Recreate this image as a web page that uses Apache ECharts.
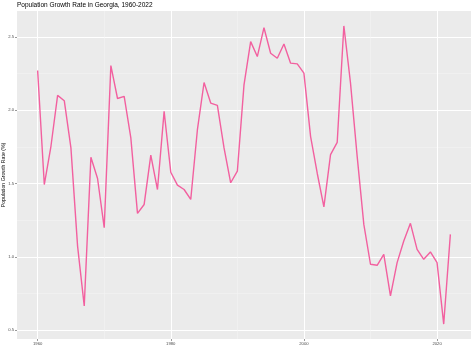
<!DOCTYPE html>
<html>
<head>
<meta charset="utf-8">
<script src="https://cdn.jsdelivr.net/npm/echarts@6/dist/echarts.min.js"></script>
<style>html,body{margin:0;padding:0;background:#fff;}#c{width:474px;height:355px;}</style>
</head>
<body>
<div id="c"></div>
<script>
const years = [1960,1961,1962,1963,1964,1965,1966,1967,1968,1969,
  1970,1971,1972,1973,1974,1975,1976,1977,1978,1979,
  1980,1981,1982,1983,1984,1985,1986,1987,1988,1989,
  1990,1991,1992,1993,1994,1995,1996,1997,1998,1999,
  2000,2001,2002,2003,2004,2005,2006,2007,2008,2009,
  2010,2011,2012,2013,2014,2015,2016,2017,2018,2019,
  2020,2021,2022];
const growthRate = [2.271,1.493,1.754,2.101,2.065,1.743,1.073,0.665,1.679,1.534,
  1.199,2.305,2.080,2.094,1.811,1.296,1.357,1.693,1.459,1.992,
  1.577,1.489,1.459,1.391,1.867,2.189,2.049,2.033,1.743,1.505,
  1.584,2.173,2.468,2.366,2.563,2.389,2.355,2.452,2.321,2.316,
  2.253,1.822,1.570,1.340,1.697,1.781,2.575,2.185,1.685,1.221,
  0.949,0.942,1.017,0.733,0.960,1.108,1.228,1.051,0.983,1.033,
  0.960,0.541,1.153];
const xMajorTicks = [1960,1980,2000,2020];
const xMinorTicks = [1970,1990,2010];
const yMajorTicks = [0.5,1.0,1.5,2.0,2.5];
const yMinorTicks = [0.75,1.25,1.75,2.25];
const titleText = 'Population Growth Rate in Georgia, 1960-2022';
const yTitle = 'Population Growth Rate (%)';

const FONT = 'Liberation Sans, Arial, sans-serif';
const xMin = 1956.9, xMax = 2025.1, yMin = 0.439, yMax = 2.677;

const chart = echarts.init(document.getElementById('c'), null, {renderer:'canvas'});
chart.setOption({
  animation: false,
  backgroundColor: '#ffffff',
  title: {
    text: titleText, left: 17, top: 2, padding: 0,
    textStyle: {fontFamily: FONT, fontSize: 6.5, fontWeight: 'normal', color: '#000'}
  },
  grid: {left: 17, right: 3, top: 11, bottom: 16, show: true, backgroundColor: '#EBEBEB', borderWidth: 0,
    containLabel: false, outerBoundsMode: 'none'},
  xAxis: [
    {
      type: 'value', min: xMin, max: xMax,
      axisLine: {show: false},
      axisTick: {show: true, length: 2, lineStyle: {color: '#333', width: 0.5}, customValues: xMajorTicks},
      axisLabel: {show: true, customValues: xMajorTicks, fontFamily: FONT, fontSize: 4.2, color: '#4D4D4D', margin: 3,
        formatter: v => String(v)},
      splitLine: {show: true, lineStyle: {color: '#ffffff', width: 1}}
    },
    {
      type: 'value', min: xMin, max: xMax, position: 'bottom', offset: 0,
      axisLine: {show: false},
      axisTick: {show: false, customValues: xMinorTicks},
      axisLabel: {show: false, customValues: xMinorTicks},
      splitLine: {show: true, lineStyle: {color: '#F5F5F5', width: 0.5}}
    }
  ],
  yAxis: [
    {
      type: 'value', min: yMin, max: yMax,
      name: yTitle, nameLocation: 'middle', nameRotate: 90, nameGap: 11, nameMoveOverlap: false,
      nameTextStyle: {fontFamily: FONT, fontSize: 5.2, color: '#000'},
      axisLine: {show: false},
      axisTick: {show: true, length: 2, lineStyle: {color: '#333', width: 0.5}, customValues: yMajorTicks},
      axisLabel: {show: true, customValues: yMajorTicks, fontFamily: FONT, fontSize: 4.2, color: '#4D4D4D', margin: 3,
        formatter: v => v.toFixed(1)},
      splitLine: {show: true, lineStyle: {color: '#ffffff', width: 1}}
    },
    {
      type: 'value', min: yMin, max: yMax, position: 'left', offset: 0,
      axisLine: {show: false},
      axisTick: {show: false, customValues: yMinorTicks},
      axisLabel: {show: false, customValues: yMinorTicks},
      splitLine: {show: true, lineStyle: {color: '#F5F5F5', width: 0.5}}
    }
  ],
  series: [{
    type: 'line',
    xAxisIndex: 0, yAxisIndex: 0,
    data: years.map((y, i) => [y, growthRate[i]]),
    showSymbol: false,
    lineStyle: {color: '#F2609F', width: 1.4},
    itemStyle: {color: '#F2609F'},
    z: 5
  }]
});
</script>
</body>
</html>
